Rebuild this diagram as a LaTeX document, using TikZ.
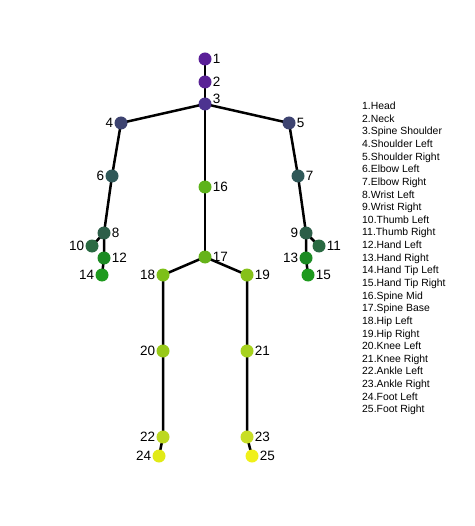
\documentclass[tikz,border=0pt]{standalone}
\usepackage{fontspec}
\setmainfont{Liberation Sans}
\usepackage{tikz}
\usetikzlibrary{positioning}
\usetikzlibrary{backgrounds}

\definecolor{cHead}{HTML}{5A1F98}
\definecolor{cNeck}{HTML}{5A2396}
\definecolor{cSpSh}{HTML}{4D3390}
\definecolor{cShou}{HTML}{3D4370}
\definecolor{cElbo}{HTML}{2F5858}
\definecolor{cWris}{HTML}{2C5E48}
\definecolor{cThum}{HTML}{2A6A42}
\definecolor{cHand}{HTML}{1C8B23}
\definecolor{cTip}{HTML}{1E9A1E}
\definecolor{cSpMi}{HTML}{5DB31A}
\definecolor{cSpBa}{HTML}{66B31A}
\definecolor{cHipL}{HTML}{7DC018}
\definecolor{cHipR}{HTML}{86C11A}
\definecolor{cKneL}{HTML}{98C919}
\definecolor{cKneR}{HTML}{A7D21E}
\definecolor{cAnkL}{HTML}{BCD821}
\definecolor{cAnkR}{HTML}{C8DE26}
\definecolor{cFooL}{HTML}{E1EA16}
\definecolor{cFooR}{HTML}{F0F01A}

\tikzset{
  every label/.style={inner sep=1pt, font=\fontsize{13.5}{15}\selectfont},
  joint/.style={circle, fill=#1, draw=none, minimum size=13pt, inner sep=0pt,
    label distance=1pt},
  bone/.style={line width=2.5pt, black},
  legend/.style={anchor=base west, inner sep=0pt, font=\fontsize{10.4}{12}\selectfont}
}

\begin{document}
\begin{tikzpicture}[x=1pt, y=-1pt]
    \useasboundingbox (0,0) rectangle (474,526);

    % Spine and head
    \node[joint=cHead, label=right:1] (j1) at (205,59) {};
    \node[joint=cNeck, label=right:2] (j2) at (205,82) {};
    \node[joint=cSpSh, label={[yshift=5pt]right:3}] (j3) at (205,104) {};
    \node[joint=cSpMi, label=right:16] (j16) at (205,187) {};
    \node[joint=cSpBa, label=right:17] (j17) at (205,257) {};

    % Left arm
    \node[joint=cShou, label=left:4] (j4) at (121,123) {};
    \node[joint=cElbo, label=left:6] (j6) at (112,176) {};
    \node[joint=cWris, label=right:8] (j8) at (104,233) {};
    \node[joint=cThum, label=left:10] (j10) at (92,246) {};
    \node[joint=cHand, label=right:12] (j12) at (104,258) {};
    \node[joint=cTip, label=left:14] (j14) at (102,275) {};

    % Right arm
    \node[joint=cShou, label=right:5] (j5) at (289,123) {};
    \node[joint=cElbo, label=right:7] (j7) at (298,176) {};
    \node[joint=cWris, label=left:9] (j9) at (306,233) {};
    \node[joint=cThum, label=right:11] (j11) at (319,246) {};
    \node[joint=cHand, label=left:13] (j13) at (306,258) {};
    \node[joint=cTip, label=right:15] (j15) at (308,275) {};

    % Legs
    \node[joint=cHipL, label=left:18] (j18) at (163,275) {};
    \node[joint=cKneL, label=left:20] (j20) at (163,351) {};
    \node[joint=cAnkL, label=left:22] (j22) at (163,437) {};
    \node[joint=cFooL, label=left:24] (j24) at (159,456) {};
    \node[joint=cHipR, label=right:19] (j19) at (247,275) {};
    \node[joint=cKneR, label=right:21] (j21) at (247,351) {};
    \node[joint=cAnkR, label=right:23] (j23) at (247,437) {};
    \node[joint=cFooR, label=right:25] (j25) at (252,456) {};

    % Bones
    \begin{scope}[on background layer]
    \draw[bone] (j1.center) -- (j2.center) -- (j3.center) -- (j16.center) -- (j17.center);
    \draw[bone] (j3.center) -- (j4.center) -- (j6.center) -- (j8.center) -- (j12.center) -- (j14.center);
    \draw[bone] (j8.center) -- (j10.center);
    \draw[bone] (j3.center) -- (j5.center) -- (j7.center) -- (j9.center) -- (j13.center) -- (j15.center);
    \draw[bone] (j9.center) -- (j11.center);
    \draw[bone] (j17.center) -- (j18.center) -- (j20.center) -- (j22.center) -- (j24.center);
    \draw[bone] (j17.center) -- (j19.center) -- (j21.center) -- (j23.center) -- (j25.center);
    \end{scope}

    % Legend
    \foreach \i/\t in {1/Head, 2/Neck, 3/Spine Shoulder, 4/Shoulder Left,
        5/Shoulder Right, 6/Elbow Left, 7/Elbow Right, 8/Wrist Left, 9/Wrist Right,
        10/Thumb Left, 11/Thumb Right, 12/Hand Left, 13/Hand Right, 14/Hand Tip Left,
        15/Hand Tip Right, 16/Spine Mid, 17/Spine Base, 18/Hip Left, 19/Hip Right,
        20/Knee Left, 21/Knee Right, 22/Ankle Left, 23/Ankle Right, 24/Foot Left,
        25/Foot Right}
      \node[legend] (leg\i) at (362, {109.7+(\i-1)*12.63}) {\i.\t};

\end{tikzpicture}
\end{document}
